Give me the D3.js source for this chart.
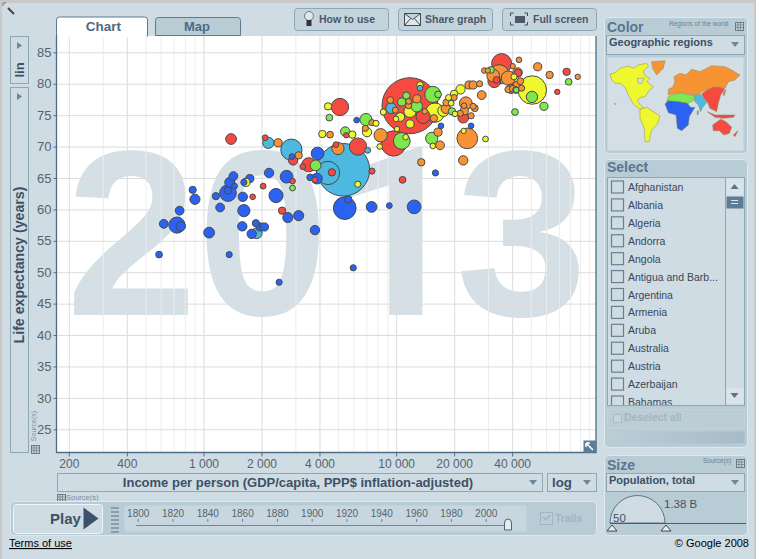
<!DOCTYPE html>
<html>
<head>
<meta charset="utf-8">
<script src="https://cdn.jsdelivr.net/npm/d3@7"></script>
<style>
  html, body { margin: 0; padding: 0; background: #fff; }
  svg { display: block; }
  text { font-family: "Liberation Sans", Arial, sans-serif; }
</style>
</head>
<body>
<div class="container"></div>
<script>
// each row: income per person, life expectancy, population (millions)
var subSaharanAfrica = [
    [2880, 68.4, .2], [3910, 68.9, 30], [3580, 65.1, 1.3], [3880, 64.9, 16.5], [5410, 60.2, 163], [5640, 61.6, 2.5],
    [7460, 60.4, 16.5], [5990, 50.7, .5], [2470, 48.4, .5], [1360, 52.8, .5], [588, 52.8, 1.3], [622, 57.7, 6.8],
    [728, 57.5, 64], [762, 57.3, 9.3], [752, 59.8, 6.8], [879, 63.1, 2.1], [903, 61.6, 13], [1070, 56.3, 16.5],
    [1160, 62.1, 2.1], [1220, 60.3, 6.8], [1340, 62.6, 71], [1340, 63, 2.5], [1370, 64.3, 13], [1430, 65.3, 6.8],
    [1450, 63.7, .2], [1600, 62, 9.3], [1620, 59.8, 26], [1620, 64.3, .5], [1740, 64.9, 4.7], [1590, 57.3, 9.3],
    [1870, 57.8, 2.1], [1780, 56.1, 9.3], [1970, 57.2, 4.7], [2070, 57.2, 4.7], [2190, 65.8, 9.3], [2700, 65.2, 30],
    [2380, 62.2, 43], [2740, 58.7, 13], [3120, 59, 13], [3790, 56.7, 9.3], [9220, 60.6, .2], [12400, 60.4, 39],
    [6240, 74.2, .1], [17100, 73.3, .1], [24500, 73.3, .1], [16000, 65.8, .5]
];
var southAsia = [
    [2170, 70.6, 20], [2860, 69.5, 138], [5320, 66.3, 1200], [4430, 65.8, 174], [7120, 69.4, .2], [1890, 56.2, 16.5],
    [9430, 76.1, 16.5], [13300, 79.3, .1]
];
var middleEastNorthAfrica = [
    [3820, 67, 16.5], [2900, 63.4, .2], [15500, 78.3, 64], [16500, 78.3, 1.3], [11300, 78.1, 2.5], [10700, 77.1, 4.7],
    [12800, 76.4, 20], [19500, 75.6, 2.5], [15300, 71.3, 26], [4500, 74.6, 1.3], [6970, 74.3, 26], [5440, 72.4, 9.3],
    [10700, 70.9, 71], [31100, 82.2, 1.3], [78600, 80.3, 1.3], [50700, 77.9, 20], [58500, 76.4, 4.7], [41400, 75.5, 1.3],
    [42000, 79, .1]
];
var eastAsiaPacific = [
    [1390, 71.2, 16.5], [2090, 71.4, .2], [2920, 67.8, 9.3], [3520, 67.1, 43], [3280, 66.8, .2], [3780, 64.7, .2],
    [4640, 65.9, 2.5], [6340, 70, 78], [4870, 70.3, .2], [7490, 66.1, .5], [2040, 63.7, .2], [1800, 62, .1],
    [2900, 64.5, .1], [2560, 59.8, 2.5], [11800, 76.5, 1380], [13800, 74.8, 43], [22300, 74.6, 16.5], [10800, 64.7, 1.3],
    [5110, 76.3, 78], [5510, 71.8, .01], [9700, 70.5, 215], [35300, 83.2, 118], [32300, 80.4, 30], [33200, 80.6, 1.3],
    [76700, 81.9, 2.5], [68600, 78.7, .02], [42900, 81.7, 3.6], [39500, 79.2, 9.3]
];
var europeCentralAsia = [
    [2440, 70.6, 4.7], [3120, 68.6, 2.5], [4990, 69.7, 26], [9320, 77.4, 1.3], [12800, 77.6, 4.7], [11600, 77.2, .2],
    [9900, 75.8, .5], [11600, 76.5, .5], [14100, 75.6, .1], [15700, 74.5, 2.5], [18100, 76, 9.3], [20000, 77.8, .5],
    [18200, 77, 1.3], [23900, 79.8, 4.7], [25100, 79.8, 4.7], [27100, 80, .5], [27800, 78.2, 6.8], [23000, 76.9, 30],
    [21500, 75.3, .5], [22600, 75.7, 4.7], [22500, 76.5, .1], [25100, 76.4, .5], [25600, 76.1, 1.3], [24500, 74.9, .5],
    [16500, 72.3, 4.7], [16900, 70.2, 6.8], [23400, 71.3, 128], [22300, 67.8, 9.3], [13500, 67.5, 2.5], [4540, 71.9, 1.3],
    [7490, 73.8, .5], [6920, 72.9, .5], [8310, 71.8, 35], [34300, 81.5, 106], [38200, 80.9, 43], [31900, 81.3, 30],
    [28700, 82.1, .1], [29900, 82.1, .01], [43400, 83.8, .1], [54300, 82.7, 4.7], [40300, 82.8, .01], [62600, 81.4, 2.5],
    [87600, 81.1, .02], [42700, 81.8, 9.3], [44100, 80.4, 1.3], [38200, 79.1, 1.3], [42200, 79.8, 2.5], [40300, 79.2, 1.3],
    [44800, 79.3, .5], [41900, 79, 1.3]
];
var america = [
    [6320, 64, .5], [1660, 64.3, 4.7], [13300, 79.8, 1.3], [8580, 75.5, .5], [11800, 75.6, 26], [15900, 75.4, 106],
    [17600, 75.7, 20], [10500, 74.7, 6.8], [9980, 74.4, .1], [11800, 73.6, 4.7], [21600, 79.1, 9.3], [20000, 78.4, 2.5],
    [18700, 77.8, .5], [19300, 76.9, .2], [20200, 75.2, .1], [15500, 70.1, .1], [22400, 72.5, .01], [29100, 71.2, .2],
    [4430, 76.4, 2.5], [7860, 73.7, .5], [7060, 72.3, 9.3], [4140, 72, 2.5], [5920, 71.9, 2.5], [10100, 72.8, .01],
    [11200, 71.5, .1], [8220, 70, .1], [50900, 79, 290], [40900, 81.1, .5]
];

var regionNames = ["Sub-Saharan Africa", "South Asia", "Middle East & North Africa", "East Asia & Pacific", "Europe & Central Asia", "America"];
var regionRows = [subSaharanAfrica, southAsia, middleEastNorthAfrica, eastAsiaPacific, europeCentralAsia, america];
var regionColors = ["#2b62f2", "#4db9e0", "#7ee84c", "#f54a40", "#f89333", "#eff82f"];

var xTicks = [200, 400, 1000, 2000, 4000, 10000, 20000, 40000];
var xGrid = [200, 300, 400, 500, 600, 700, 800, 900, 1000, 2000, 3000, 4000, 5000, 6000, 7000, 8000, 9000, 10000, 20000, 30000, 40000, 50000, 60000, 70000, 80000, 90000, 100000];
var yTicks = [25, 30, 35, 40, 45, 50, 55, 60, 65, 70, 75, 80, 85];
var timelineYears = [1800, 1820, 1840, 1860, 1880, 1900, 1920, 1940, 1960, 1980, 2000];
var countryNames = ["Afghanistan", "Albania", "Algeria", "Andorra", "Angola", "Antigua and Barb...", "Argentina", "Armenia", "Aruba", "Australia", "Austria", "Azerbaijan", "Bahamas"];

var ink = "#3c5167", tickInk = "#56636f", panel = "#b8ccd6", page = "#cfdce3", edge = "#8ea7b5";

var svg = d3.select(".container")
    .append("svg")
    .attr("width", 759)
    .attr("height", 559);

// page background with the grey frame on top and sides
svg.append("rect").attr("width", 756).attr("height", 559).attr("fill", "#c9c9c9");
svg.append("rect").attr("x", 2).attr("y", 3).attr("width", 752).attr("height", 556).attr("fill", page);

function label(parent, x, y, str, size, color, weight, anchor) {
    return parent.append("text")
        .attr("x", x).attr("y", y)
        .attr("font-size", size)
        .attr("fill", color)
        .attr("font-weight", weight || "normal")
        .attr("text-anchor", anchor || "start")
        .text(str);
}

function box(x, y, w, h, fill, stroke, rx) {
    return svg.append("rect")
        .attr("x", x + .5).attr("y", y + .5)
        .attr("width", w).attr("height", h)
        .attr("rx", rx || 0)
        .attr("fill", fill)
        .attr("stroke", stroke || "none");
}

function gridIcon(x, y) {
    box(x, y, 8, 8, "#c3d1d9", "#6b7c88");
    svg.append("path")
        .attr("d", "M" + (x + 3) + " " + y + "v8M" + (x + 5.5) + " " + y + "v8M" + x + " " + (y + 3) + "h8M" + x + " " + (y + 5.5) + "h8")
        .attr("stroke", "#6b7c88").attr("stroke-width", .7);
}

function dropArrow(x, y) {
    svg.append("path").attr("d", "M" + (x - 4) + " " + y + "h8l-4 5z").attr("fill", "#6f8799");
}

// top left corner glyph
svg.append("path").attr("d", "M8 8l6 6").attr("stroke", "#444").attr("stroke-width", 2);
svg.append("path").attr("d", "M3 6v-3h3").attr("stroke", "#777").attr("fill", "none");

// tabs
svg.append("path").attr("d", "M155.5 35.5v-15q0-3 3-3h79q3 0 3 3v15z").attr("fill", panel).attr("stroke", "#5d7a90");
label(svg, 197, 31, "Map", 13, "#4f6a82", "bold", "middle");

// top buttons
var topButtons = [[294, "How to use", 25], [398, "Share graph", 27], [502, "Full screen", 31]];
topButtons.forEach(function (d) {
    box(d[0], 8, 94, 22, "#c5d4dc", edge, 3);
    label(svg, d[0] + d[2], 23, d[1], 10.5, "#46596b", "bold");
});
// bulb
svg.append("circle").attr("cx", 309).attr("cy", 16).attr("r", 4.5).attr("fill", "#dfe7eb").attr("stroke", "#6b7c88");
svg.append("rect").attr("x", 306.500).attr("y", 20).attr("width", 5).attr("height", 6).attr("fill", "#333");
// envelope
svg.append("path").attr("d", "M404.500 13.500h16v12h-16zM404.500 13.500l8 6l8-6M404.500 25.500l6-7M420.500 25.500l-6-7")
    .attr("fill", "#dfe7eb").attr("stroke", "#3d4a55");
// full screen
svg.append("rect").attr("x", 515).attr("y", 16).attr("width", 10).attr("height", 7).attr("fill", "#4b5a66");
svg.append("path").attr("d", "M510.500 16v-3h3M527.500 16v-3h-3M510.500 22v3h3M527.500 22v3h-3")
    .attr("stroke", "#3d4a55").attr("fill", "none");

// plot
var margin = { left: 56.5, top: 36, right: 596, bottom: 452.5 };
var x = d3.scaleLog().domain([172.6, 109000]).range([margin.left, margin.right]);
var y = d3.scaleLinear().domain([21.3, 87.6]).range([margin.bottom, margin.top]);
var size = d3.scaleSqrt().domain([0, 1380]).range([2.6, 28]);

svg.append("rect")
    .attr("x", margin.left).attr("y", margin.top)
    .attr("width", margin.right - margin.left).attr("height", margin.bottom - margin.top)
    .attr("fill", "#fff");

// year in the background, the 1 comes from Roboto since it needs a plain stem
var yearLabel = svg.append("text")
    .attr("y", 315)
    .attr("font-size", 236)
    .attr("font-weight", "bold")
    .attr("fill", "#d5dfe6");
yearLabel.append("tspan").attr("x", 66).text("20");
yearLabel.append("tspan").attr("x", 330).attr("font-family", "Roboto").text("1");
yearLabel.append("tspan").attr("x", 456).text("3");

var plotHeight = margin.bottom - margin.top, plotWidth = margin.right - margin.left;

svg.append("g")
    .attr("class", "grid")
    .attr("transform", "translate(0," + margin.bottom + ")")
    .call(d3.axisBottom(x).tickValues(xGrid).tickSize(-plotHeight).tickFormat(""))
    .call(function (g) {
        g.select(".domain").remove();
        g.selectAll("line").attr("stroke", function (d) {
            return xTicks.indexOf(d) >= 0 ? "#dcdcdc" : "#ededed";
        });
    });

svg.append("g")
    .attr("class", "grid")
    .attr("transform", "translate(" + margin.left + ",0)")
    .call(d3.axisLeft(y).tickValues(yTicks).tickSize(-plotWidth).tickFormat(""))
    .call(function (g) {
        g.select(".domain").remove();
        g.selectAll("line").attr("stroke", "#dcdcdc");
    });

// bubbles, biggest first so the small ones stay on top
var bubbles = [];
regionRows.forEach(function (rows, i) {
    rows.forEach(function (r) {
        bubbles.push({ income: r[0], life: r[1], pop: r[2], region: regionNames[i], color: regionColors[i] });
    });
});
bubbles.sort(function (a, b) { return b.pop - a.pop; });

svg.append("g")
    .selectAll("circle")
    .data(bubbles)
    .enter()
    .append("circle")
    .attr("cx", function (d) { return x(d.income); })
    .attr("cy", function (d) { return y(d.life); })
    .attr("r", function (d) { return size(d.pop); })
    .attr("fill", function (d) { return d.color; })
    .attr("stroke", "#45494c")
    .attr("stroke-width", 1);

// plot frame
svg.append("path")
    .attr("d", "M" + margin.left + " " + margin.top + "V" + margin.bottom + "H" + margin.right + "V" + margin.top)
    .attr("fill", "none").attr("stroke", "#4f6c85").attr("stroke-width", 1.3);

// chart tab sits on top of the frame
svg.append("path").attr("d", "M56.5 36v-16q0-3 3-3h85q3 0 3 3v16z").attr("fill", "#fff").attr("stroke", "#5d7a90");
svg.append("rect").attr("x", 57.5).attr("y", 33).attr("width", 89).attr("height", 4).attr("fill", "#fff");
label(svg, 103.5, 31, "Chart", 13.5, "#4f6a82", "bold", "middle");

// corner arrow button
box(583, 440, 13, 12, "#5b7d98");
svg.append("path").attr("d", "M586 443l7 7M586 443h4M586 443v4").attr("stroke", "#fff").attr("stroke-width", 1.6).attr("fill", "none");

// axes
var spaced = d3.formatLocale({ decimal: ".", thousands: " ", grouping: [3], currency: ["", ""] }).format(",");

svg.append("g")
    .attr("transform", "translate(0," + margin.bottom + ")")
    .call(d3.axisBottom(x).tickValues(xTicks).tickSize(4).tickPadding(3).tickFormat(spaced))
    .call(function (g) {
        g.select(".domain").remove();
        g.selectAll("line").attr("stroke", "#5a6f80");
        g.selectAll("text").attr("font-size", 12).attr("font-family", "Liberation Sans").attr("fill", tickInk);
    });

svg.append("g")
    .attr("transform", "translate(" + margin.left + ",0)")
    .call(d3.axisLeft(y).tickValues(yTicks).tickSize(3).tickPadding(2))
    .call(function (g) {
        g.select(".domain").remove();
        g.selectAll("line").attr("stroke", "#5a6f80");
        g.selectAll("text").attr("font-size", 13).attr("font-family", "Liberation Sans").attr("fill", tickInk);
    });

// y axis controls
box(10, 36, 18, 47, page, edge);
box(10, 87, 18, 365, page, edge);
svg.append("path").attr("d", "M17 42l5 3.5l-5 3.5z").attr("fill", "#6f8799");
svg.append("path").attr("d", "M17 93l5 3.5l-5 3.5z").attr("fill", "#6f8799");
label(svg, 0, 0, "lin", 13, ink, "bold", "middle").attr("transform", "translate(24,70) rotate(-90)");
label(svg, 0, 0, "Life expectancy (years)", 14.2, ink, "bold", "middle").attr("transform", "translate(24,265) rotate(-90)");
label(svg, 0, 0, "Source(s)", 7, "#7b8d9b", "normal", "middle").attr("transform", "translate(36,426) rotate(-90)");
gridIcon(31, 445);

// x axis controls
box(57, 473, 485, 18, page, edge);
label(svg, 298, 487, "Income per person (GDP/capita, PPP$ inflation-adjusted)", 13, ink, "bold", "middle");
dropArrow(533, 480);
box(547, 473, 49, 18, page, edge);
label(svg, 552, 487, "log", 13.3, ink, "bold");
dropArrow(587, 480);
gridIcon(57, 494);
label(svg, 66, 500, "Source(s)", 7.5, "#7b8d9b");

// play bar
box(10, 501, 586, 34, panel, "#dfe8ed", 4);
box(13, 504, 89, 29, page, "#f0f5f7", 3);
label(svg, 50, 524, "Play", 15, ink, "bold");
svg.append("path").attr("d", "M83.5 507.5l15 11l-15 11z").attr("fill", ink);
d3.range(7).forEach(function (i) {
    svg.append("rect").attr("x", 111).attr("y", 507.5 + i * 4).attr("width", 8).attr("height", 1).attr("fill", "#5c7183");
});
box(124, 505, 402, 26, "#c8d7df", "none", 3);

var timeline = d3.scaleLinear().domain([1800, 2000]).range([137.7, 485.7]);
svg.append("g")
    .attr("transform", "translate(0,522)")
    .call(d3.axisTop(timeline).tickValues(timelineYears).tickSize(3).tickPadding(2).tickFormat(d3.format("d")))
    .call(function (g) {
        g.select(".domain").remove();
        g.selectAll("line").attr("stroke", "#6d8192");
        g.selectAll("text").attr("font-size", 10).attr("font-family", "Liberation Sans").attr("fill", "#56636f");
    });
svg.append("line").attr("x1", 136).attr("x2", 507).attr("y1", 525.5).attr("y2", 525.5).attr("stroke", "#6f8698").attr("stroke-width", 1);
svg.append("path").attr("d", "M504.500 530v-7q0-4 3.500-4t3.500 4v7z").attr("fill", "#e4ecf0").attr("stroke", "#4d6274");
box(540, 512, 12, 12, "#bccdd6", "#9fb5c2");
svg.append("path").attr("d", "M543 517l3 3l4-5").attr("fill", "none").attr("stroke", "#9fb5c2").attr("stroke-width", 1.5);
label(svg, 555, 522, "Trails", 10.5, "#9fb5c2", "bold");

// footer
label(svg, 9, 547, "Terms of use", 11, "#000").attr("text-decoration", "underline");
label(svg, 749, 547, "© Google 2008", 11, "#000", "normal", "end");

// colour panel
box(604, 17, 143, 136, panel, "#dfe8ed", 4);
label(svg, 607, 32, "Color", 14, "#5a7690", "bold");
label(svg, 669, 26, "Regions of the world", 6.5, "#6f818f");
gridIcon(735, 22);
box(606, 35, 138, 19, page, edge);
label(svg, 609, 46, "Geographic regions", 11, ink, "bold");
dropArrow(735, 42);
box(607, 57, 136, 93, "#d3dee5");

// rough outline of the regions for the small map, in a 3x sketch space
var mapShapes = [
    ["#eff82f", [[30, 222], [45, 218], [60, 205], [85, 198], [100, 205], [115, 195], [140, 190], [145, 200], [130, 212], [135, 228], [150, 235], [140, 245], [160, 262], [148, 270], [135, 290], [122, 292], [112, 300], [120, 315], [130, 322], [120, 328], [100, 312], [85, 285], [75, 262], [60, 250], [45, 250], [35, 240]]],
    ["#d3dee5", [[112, 235], [132, 235], [125, 250], [115, 250]]],
    ["#eff82f", [[120, 328], [140, 322], [160, 335], [180, 348], [172, 372], [155, 390], [147, 425], [135, 425], [133, 385], [120, 355]]],
    ["#eff82f", [[43, 310], [48, 310], [46, 315]]],
    ["#f89333", [[155, 185], [195, 182], [190, 205], [170, 225], [158, 205]]],
    ["#f89333", [[205, 285], [205, 268], [218, 262], [225, 245], [222, 230], [240, 220], [258, 225], [275, 208], [300, 215], [335, 197], [375, 200], [395, 210], [420, 225], [405, 240], [385, 245], [375, 265], [360, 262], [340, 262], [315, 270], [300, 280], [285, 285], [268, 283], [245, 278], [225, 280]]],
    ["#7ee84c", [[205, 290], [225, 282], [245, 280], [268, 285], [283, 285], [283, 300], [265, 310], [235, 305], [200, 305]]],
    ["#2b62f2", [[195, 312], [205, 302], [235, 305], [262, 310], [272, 322], [285, 322], [268, 350], [265, 375], [245, 392], [232, 385], [228, 345], [205, 338]]],
    ["#4db9e0", [[283, 287], [300, 282], [310, 295], [322, 305], [308, 322], [302, 335], [295, 315], [285, 305]]],
    ["#4db9e0", [[292, 332], [296, 334], [294, 345], [291, 343]]],
    ["#f54a40", [[305, 282], [320, 270], [340, 262], [360, 262], [375, 268], [362, 285], [355, 310], [350, 335], [330, 325], [322, 305], [312, 295]]],
    ["#f54a40", [[370, 280], [378, 270], [372, 288]]],
    ["#f54a40", [[322, 335], [345, 345], [375, 345], [405, 345], [400, 352], [370, 355], [345, 352]]],
    ["#f54a40", [[338, 375], [362, 358], [378, 365], [395, 382], [388, 400], [372, 405], [358, 392], [340, 392]]],
    ["#f54a40", [[400, 405], [414, 392], [405, 410]]]
];
var mapLine = d3.line().curve(d3.curveLinearClosed);
svg.append("g")
    .attr("transform", "translate(600,0) scale(0.3333)")
    .selectAll("path")
    .data(mapShapes)
    .enter()
    .append("path")
    .attr("d", function (d) { return mapLine(d[1]); })
    .attr("fill", function (d) { return d[0]; })
    .attr("stroke", "#8a8a55")
    .attr("stroke-width", 1.5);

// select panel
box(604, 159, 143, 288, panel, "#dfe8ed", 4);
label(svg, 607, 172, "Select", 14, "#5a7690", "bold");
box(607, 177, 137, 228, page, edge);

svg.append("clipPath").attr("id", "listClip")
    .append("rect").attr("x", 607).attr("y", 178).attr("width", 118).attr("height", 227);
var list = svg.append("g").attr("clip-path", "url(#listClip)");
var rowY = d3.scalePoint().domain(countryNames).range([187, 402]);
countryNames.forEach(function (name) {
    list.append("rect")
        .attr("x", 611.5).attr("y", rowY(name) - 6)
        .attr("width", 12).attr("height", 12)
        .attr("fill", page).attr("stroke", "#6a7f90").attr("stroke-width", 1.2);
    label(list, 628, rowY(name) + 4, name, 10.5, "#38485a");
});

svg.append("line").attr("x1", 725.5).attr("x2", 725.5).attr("y1", 177).attr("y2", 405).attr("stroke", edge);
box(726, 178, 17, 17, "#d9e3e9");
svg.append("path").attr("d", "M730.500 189h8l-4 -5z").attr("fill", "#5c7183");
box(726, 196, 17, 12, "#5b7d98");
svg.append("path").attr("d", "M731 200.500h7M731 203.500h7").attr("stroke", "#dbe5ea");
box(726, 387, 17, 16, "#d9e3e9");
svg.append("path").attr("d", "M730.500 393h8l-4 5z").attr("fill", "#5c7183");

box(607, 409, 137, 19, "#bccdd6", "#c3d3db", 2);
box(613, 414, 8, 8, "#c6d5dc", "#a9bcc8");
label(svg, 624, 421, "Deselect all", 10.5, "#a3b6c2", "bold");
var fade = svg.append("defs").append("linearGradient").attr("id", "fade");
fade.append("stop").attr("offset", "0").attr("stop-color", "#bccdd6");
fade.append("stop").attr("offset", "1").attr("stop-color", "#a7bcc8");
box(607, 431, 137, 12, "url(#fade)");

// size panel
box(604, 455, 143, 80, panel, "#dfe8ed", 4);
label(svg, 607, 470, "Size", 14, "#5a7690", "bold");
label(svg, 703, 463, "Source(s)", 6.5, "#6f818f");
gridIcon(736, 459);
box(606, 473, 138, 18, page, edge);
label(svg, 609, 484, "Population, total", 11, ink, "bold");
dropArrow(735, 480);

// legend half circle, its radius taken from the same size scale
var legendR = size(1380) - .5;
svg.append("path")
    .attr("transform", "translate(637.5,523)")
    .attr("d", "M" + (-legendR) + " 0A" + legendR + " " + legendR + " 0 0 1 " + legendR + " 0Z")
    .attr("fill", page).attr("stroke", "#5c7488");
svg.append("line").attr("x1", 610).attr("x2", 746).attr("y1", 523.5).attr("y2", 523.5).attr("stroke", "#4b5c6a");
label(svg, 664, 508, "1.38 B", 11.5, "#45525e");
label(svg, 613, 522, "50", 11.5, "#45525e");
[612, 666].forEach(function (px) {
    svg.append("path").attr("d", "M" + (px - 5) + " 531l5-6l5 6z").attr("fill", "#e9eff2").attr("stroke", "#222").attr("stroke-width", .8);
});
</script>
</body>
</html>
